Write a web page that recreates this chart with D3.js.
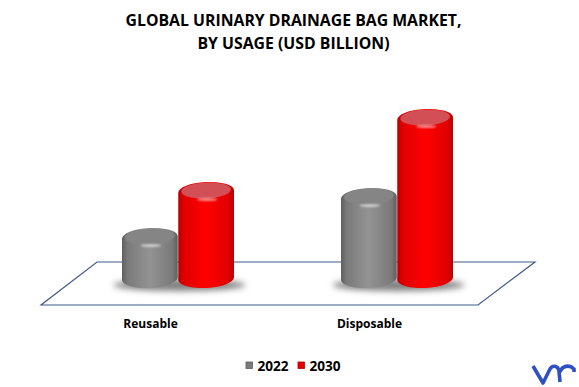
<!DOCTYPE html>
<html>
<head>
<meta charset="utf-8">
<script src="https://cdn.jsdelivr.net/npm/d3@7"></script>
<style>
  html, body { margin: 0; padding: 0; background: #fff; }
  svg { display: block; }
  text { font-family: "Open Sans", "Noto Sans", sans-serif; font-weight: 700; fill: #000; }
</style>
</head>
<body>
<svg id="chart" width="579" height="387"></svg>
<script>
// data -------------------------------------------------------------------
const titleLines = ['GLOBAL URINARY DRAINAGE BAG MARKET,', 'BY USAGE (USD BILLION)'];
const categories = ['Reusable', 'Disposable'];
const years = ['2022', '2030'];
const values2022 = [0.6, 1.0];
const values2030 = [1.06, 1.79];
const yearColors = { '2022': ['#5f5f5f', '#939393', '#7a7a7a'], '2030': ['#b80000', '#ff0000', '#e00000'] };

const svg = d3.select('#chart');
const defs = svg.append('defs');

// scales -----------------------------------------------------------------
const floor = { left: 41, right: 478, front: 305, back: 262, shift: 56 };
const x0 = d3.scaleBand().domain(categories).range([floor.left, floor.left + 438]);
const x1 = d3.scaleBand().domain(years).range([-57, 55.5]);
const y = d3.scaleLinear().domain([0, 2]).range([288, 88]);

// gradients and blur
years.forEach(yr => {
  const [edge, mid, top] = yearColors[yr];
  const g = defs.append('linearGradient').attr('id', 'body' + yr);
  [[0, edge], [0.1, top], [0.5, mid], [0.9, top], [1, edge]].forEach(([o, c]) => {
    g.append('stop').attr('offset', o).attr('stop-color', c);
  });
});
defs.append('filter').attr('id', 'soft').attr('x', '-30%').attr('y', '-100%').attr('width', '160%').attr('height', '300%')
  .append('feGaussianBlur').attr('stdDeviation', 3);
defs.append('filter').attr('id', 'glint').attr('x', '-50%').attr('y', '-200%').attr('width', '200%').attr('height', '500%')
  .append('feGaussianBlur').attr('stdDeviation', 1);

// title
svg.append('g').selectAll('text').data(titleLines).join('text')
  .attr('x', 293.5)
  .attr('y', (d, i) => 26 + i * 22.5)
  .attr('text-anchor', 'middle')
  .attr('font-size', 15.8)
  .text(d => d);

// floor
svg.append('path')
  .attr('d', `M${floor.left},${floor.front}L${floor.right},${floor.front}L${floor.right + floor.shift + 1},${floor.back}L${floor.left + floor.shift},${floor.back}Z`)
  .attr('fill', '#fff')
  .attr('stroke', '#3f5a8a')
  .attr('stroke-width', 1.2);

// category axis, no line or ticks
const axis = svg.append('g')
  .attr('transform', 'translate(0,316)')
  .call(d3.axisBottom(x0).tickSize(0).tickPadding(1));
axis.select('.domain').remove();
axis.selectAll('text').attr('font-size', 12).attr('dy', '0.9em').attr('fill', '#000');

// bars -------------------------------------------------------------------
const rows = categories.map((c, i) => ({ category: c, values: [values2022[i], values2030[i]] }));
const barCenter = c => x0(c) + x0.bandwidth() / 2 + floor.shift / 2;

// shadows under each pair
svg.append('g').selectAll('ellipse').data(rows).join('ellipse')
  .attr('cx', d => barCenter(d.category) + 1)
  .attr('cy', 285)
  .attr('rx', 66)
  .attr('ry', 6)
  .attr('fill', '#555')
  .attr('opacity', 0.75)
  .attr('filter', 'url(#soft)');

function cylinder(sel, d, yr, idx) {
  const xa = barCenter(d.category) + x1(yr) + 0.5;
  const xb = xa + x1.bandwidth() - 0.5;
  const rx = (xb - xa) / 2;
  const ry = 9.5;
  const tilt = 0.05;
  const cx = (xa + xb) / 2;
  const topY = y(d.values[idx]) + ry;
  const botY = y(0) - ry;
  const dy = rx * tilt;
  const rot = -tilt * 180 / Math.PI;

  sel.append('path')
    .attr('d', `M${xa},${topY + dy}L${xa},${botY + dy}A${rx},${ry} ${rot} 0 0 ${xb},${botY - dy}L${xb},${topY - dy}A${rx},${ry} ${rot} 0 0 ${xa},${topY + dy}Z`)
    .attr('fill', `url(#body${yr})`);
  // top cap, a bit paler than the body
  sel.append('ellipse')
    .attr('cx', cx)
    .attr('cy', topY - 1)
    .attr('rx', rx - 3)
    .attr('ry', ry - 1.5)
    .attr('transform', `rotate(${rot} ${cx} ${topY - 1})`)
    .attr('fill', yr === '2022' ? '#858585' : '#d24f55');
  // small glint on front rim
  sel.append('ellipse')
    .attr('cx', cx + 1)
    .attr('cy', topY + ry - 1.5)
    .attr('rx', 10)
    .attr('ry', 1)
    .attr('fill', '#fff')
    .attr('opacity', 0.8)
    .attr('filter', 'url(#glint)');
}

const barsG = svg.append('g');
rows.forEach(d => {
  years.forEach((yr, idx) => barsG.append('g').call(cylinder, d, yr, idx));
});

// legend -----------------------------------------------------------------
const legendX = d3.scaleOrdinal().domain(years).range([246, 298]);
const legend = svg.append('g').selectAll('g').data(years).join('g')
  .attr('transform', d => `translate(${legendX(d)},362)`);
legend.append('rect')
  .attr('width', 6.5).attr('height', 6.5)
  .attr('fill', d => yearColors[d][2])
  .attr('stroke', d => yearColors[d][0])
  .attr('stroke-width', 0.8);
legend.append('text')
  .attr('x', 11.5).attr('y', 8.5)
  .attr('font-size', 13.6)
  .text(d => d);

// logo
svg.append('path')
  .attr('d', 'M533,366L543,383L550,369C552,365 558,365 559,371L560,382M560,372C562,366 569,364 574,369L574,372')
  .attr('fill', 'none')
  .attr('stroke', '#2f4fc4')
  .attr('stroke-width', 3.6)
  .attr('stroke-linejoin', 'round');
</script>
</body>
</html>
